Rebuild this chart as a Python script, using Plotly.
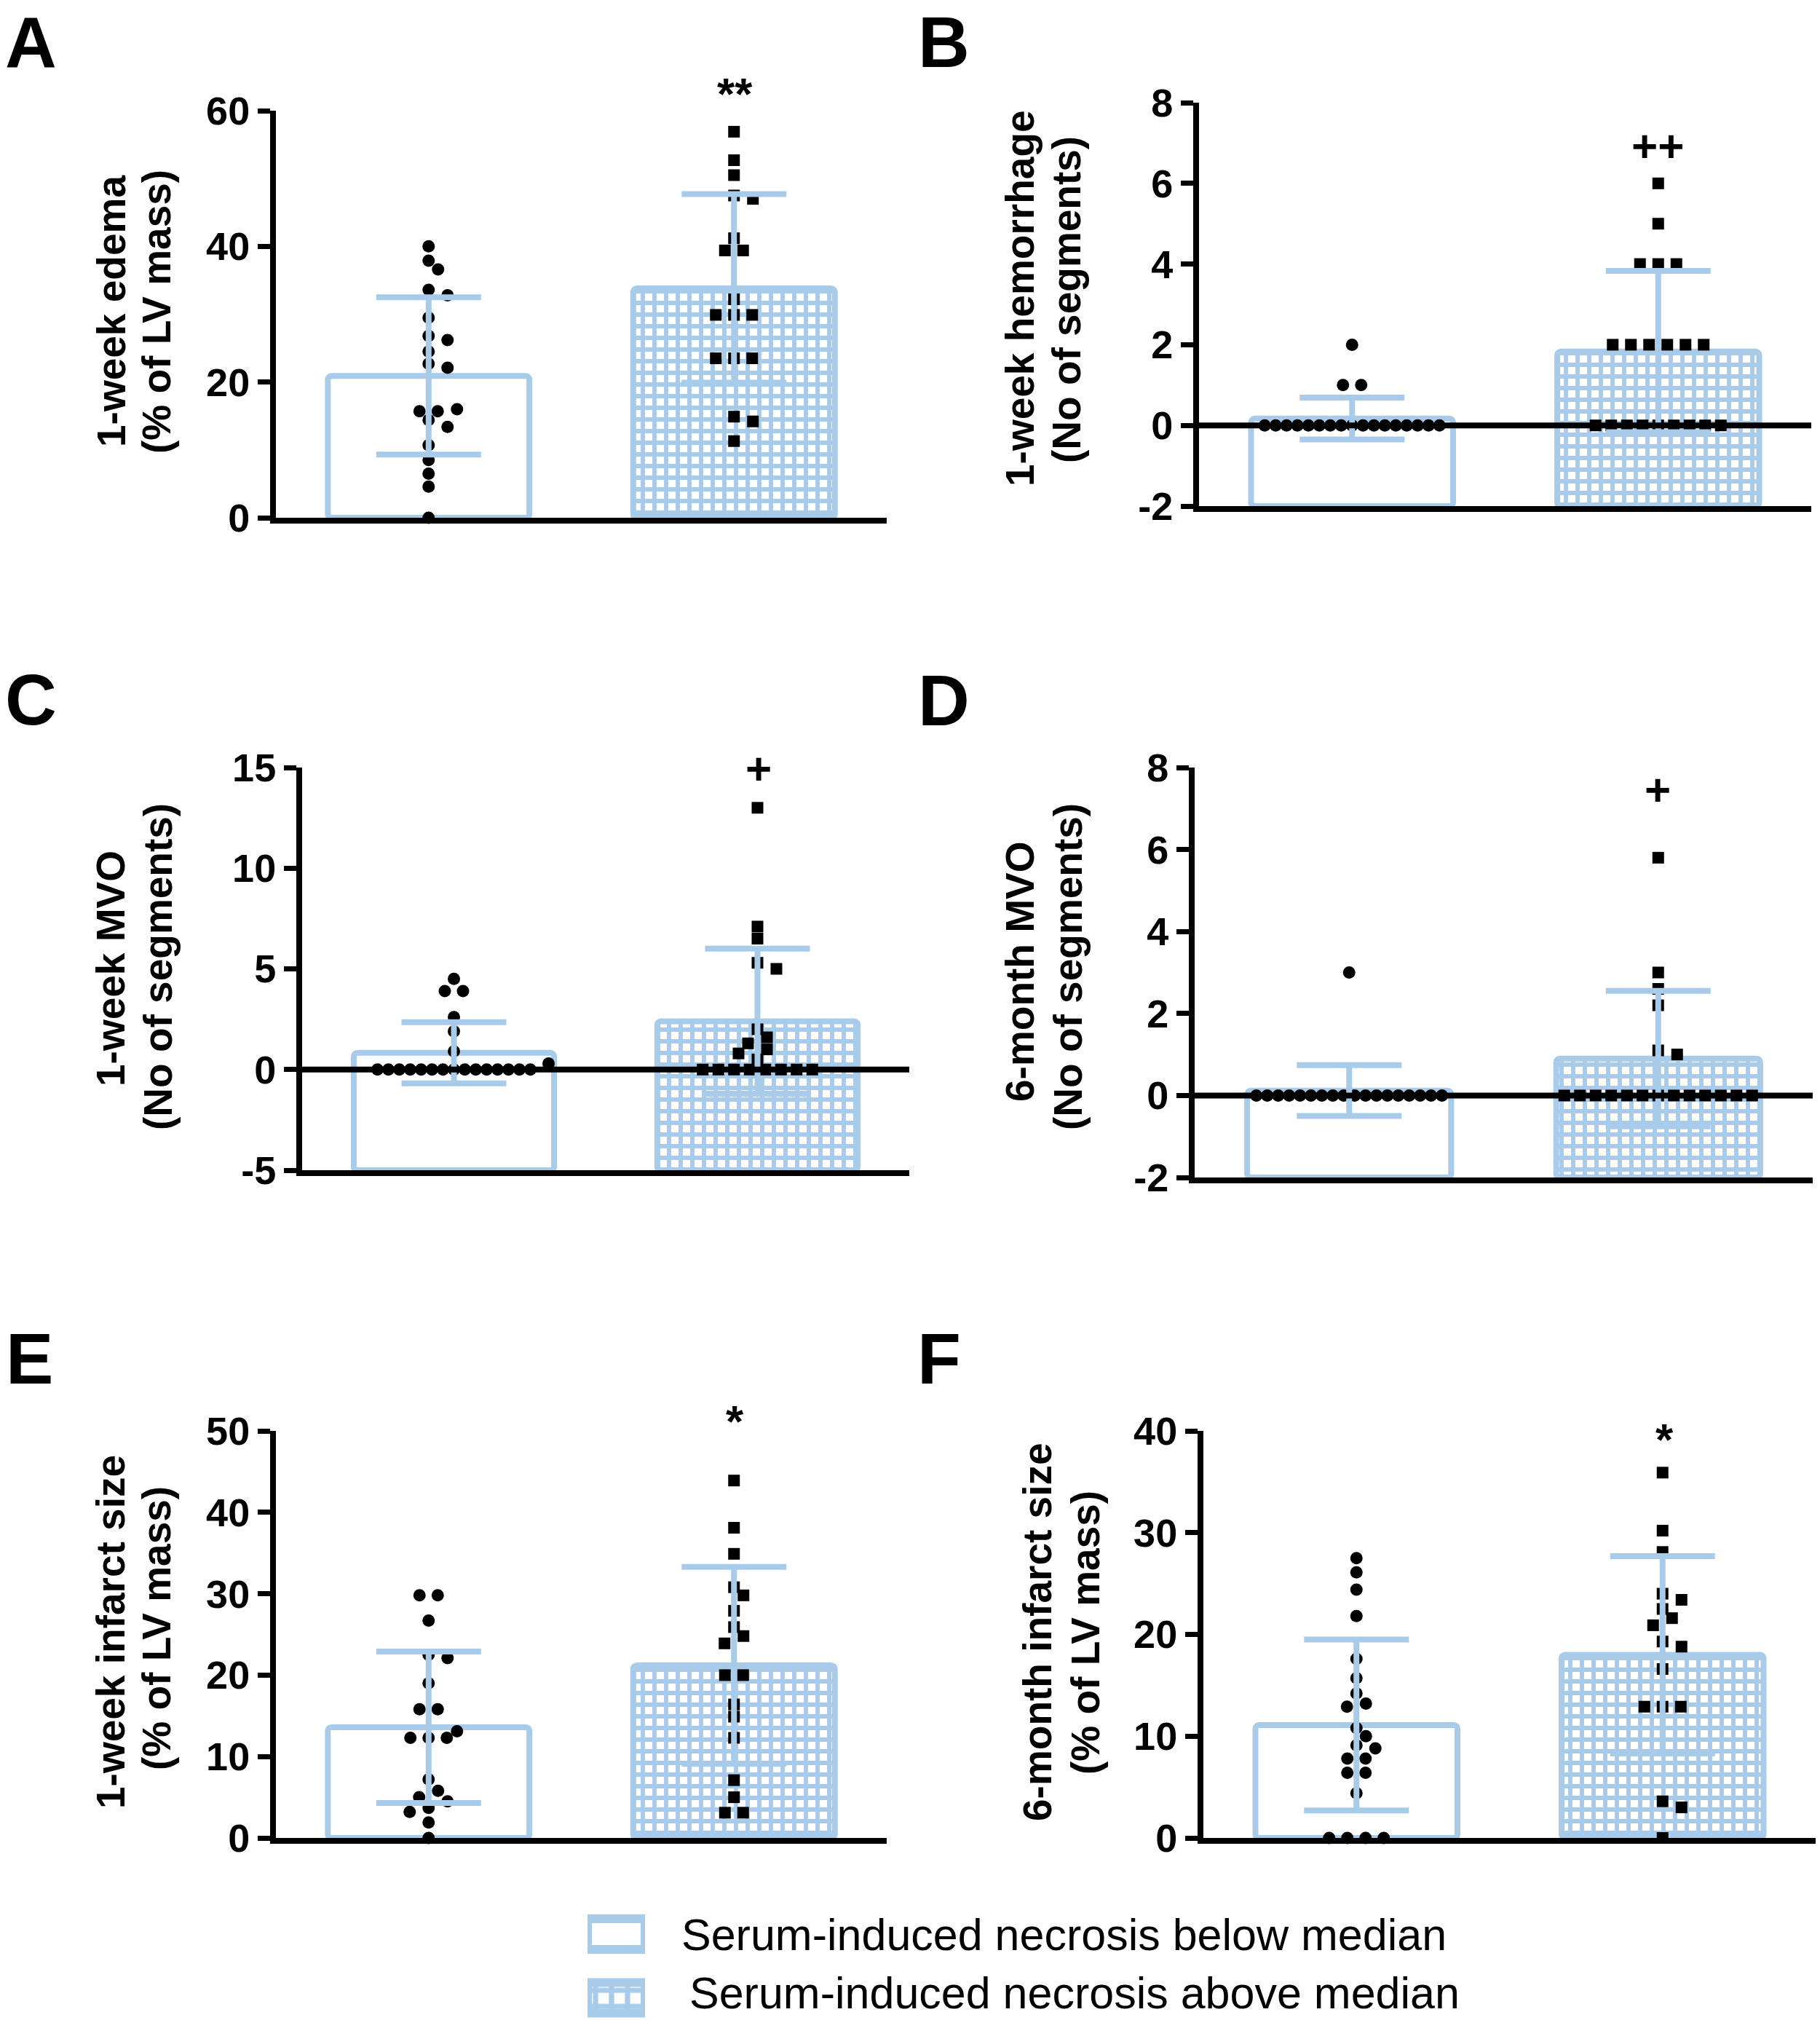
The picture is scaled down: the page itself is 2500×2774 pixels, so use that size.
import plotly.graph_objects as go
from collections import defaultdict

W, H = 2500, 2774
BLUE = '#A9CBEA'
FONT = 'Liberation Sans, Arial, Helvetica, sans-serif'

GROUPS = ['Serum-induced necrosis below median', 'Serum-induced necrosis above median']

# ---------------- data ----------------
A_below = [40.0, 37.9, 36.6, 33.6, 32.8, 29.5, 26.8, 26.2, 24.5, 22.7, 22.1, 16.0, 15.7, 15.7,
           14.4, 13.4, 10.7, 8.5, 6.5, 4.6, 0.0]
A_above = [56.9, 52.7, 50.5, 47.5, 47.0, 41.2, 39.4, 39.4, 32.2, 29.9, 29.9, 29.9, 23.5, 23.5,
           23.5, 14.9, 14.2, 11.3]
A_mean = [20.9, 33.8]
A_sd = [11.6, 13.9]

B_below = [2, 1, 1, 0, 0, 0, 0, 0, 0, 0, 0, 0, 0, 0, 0, 0, 0, 0, 0, 0]
B_above = [6, 5, 4, 4, 4, 2, 2, 2, 2, 2, 2, 0, 0, 0, 0, 0, 0, 0, 0, 0]
B_mean = [0.17, 1.83]
B_sd = [0.52, 2.0]

C_below = [4.5, 3.9, 3.9, 2.6, 1.9, 0.9, 0.3, 0, 0, 0, 0, 0, 0, 0, 0, 0, 0, 0, 0, 0, 0, 0]
C_above = [13.0, 7.1, 6.5, 5.3, 5.0, 2.0, 1.6, 1.3, 1.0, 0.8, 0.5, 0, 0, 0, 0, 0, 0, 0, 0]
C_mean = [0.83, 2.4]
C_sd = [1.52, 3.6]

D_below = [3.0, 0, 0, 0, 0, 0, 0, 0, 0, 0, 0, 0, 0, 0, 0, 0, 0, 0, 0]
D_above = [5.8, 3.0, 2.6, 2.2, 1.1, 1.0, 0, 0, 0, 0, 0, 0, 0, 0, 0, 0, 0, 0, 0]
D_mean = [0.12, 0.9]
D_sd = [0.62, 1.65]

E_below = [29.8, 29.8, 26.7, 22.5, 22.1, 19.0, 15.8, 15.8, 13.1, 12.3, 12.3, 12.3, 7.2, 5.8,
           5.0, 4.5, 3.7, 3.2, 1.9, 0.0]
E_above = [43.9, 38.1, 34.9, 30.8, 29.8, 27.9, 25.9, 24.8, 23.9, 20.0, 20.0, 16.4, 14.9, 12.3,
           7.1, 5.0, 3.1, 3.1]
E_mean = [13.6, 21.2]
E_sd = [9.3, 12.1]

F_below = [27.5, 26.1, 24.4, 21.8, 17.6, 15.7, 14.2, 13.2, 12.9, 10.8, 10.0, 9.1, 8.8, 7.8,
           7.8, 6.4, 6.4, 4.4, 0.0, 0.0, 0.0, 0.0]
F_above = [35.9, 30.2, 28.1, 24.0, 23.4, 22.5, 21.6, 20.9, 19.3, 18.8, 16.6, 12.9, 12.9, 12.9,
           3.6, 3.0, 0.0]
F_mean = [11.1, 18.0]
F_sd = [8.4, 9.7]

A_ticks = [0, 20, 40, 60]
B_ticks = [-2, 0, 2, 4, 6, 8]
C_ticks = [-5, 0, 5, 10, 15]
D_ticks = [-2, 0, 2, 4, 6, 8]
E_ticks = [0, 10, 20, 30, 40, 50]
F_ticks = [0, 10, 20, 30, 40]

A_title = ['1-week edema', '(% of LV mass)']
B_title = ['1-week hemorrhage', '(No of segments)']
C_title = ['1-week MVO', '(No of segments)']
D_title = ['6-month MVO', '(No of segments)']
E_title = ['1-week infarct size', '(% of LV mass)']
F_title = ['6-month infarct size', '(% of LV mass)']

SIG = ['**', '++', '+', '+', '*', '*']
LETTERS = ['A', 'B', 'C', 'D', 'E', 'F']

# ---------------- layout (pixels) ----------------
# axis line centres: left, right, top, bottom
BOX = [(375, 1218, 152, 714), (1643, 2488, 141, 698),
       (411, 1249, 1054, 1610), (1637, 2490, 1054, 1620),
       (375, 1218, 1965, 2527), (1649, 2494, 1965, 2527)]
# (x centre, y, anchor)
LETTER_POS = [(42, 1, 'top'), (1296, 1, 'top'), (42, 961, 'middle'), (1296, 962, 'middle'),
              (40, 1866, 'middle'), (1290, 1866, 'middle')]
TITLE_POS = [((153, 428), (215, 428)), ((1401, 410), (1465, 412)),
             ((152, 1330), (217, 1328)), ((1401, 1335), (1467, 1328)),
             ((152, 2241), (215, 2236)), ((1425, 2241), (1491, 2242))]
SIG_POS = [(1009, 128), (2277, 200), (1042, 1055), (2277, 1085), (1009, 1951), (2286, 1976)]

panels = [
    (A_below, A_above, A_mean, A_sd, A_ticks, A_title),
    (B_below, B_above, B_mean, B_sd, B_ticks, B_title),
    (C_below, C_above, C_mean, C_sd, C_ticks, C_title),
    (D_below, D_above, D_mean, D_sd, D_ticks, D_title),
    (E_below, E_above, E_mean, E_sd, E_ticks, E_title),
    (F_below, F_above, F_mean, F_sd, F_ticks, F_title),
]

BAR_W = 0.66
DOT = 17
SQ = 16
PATTERN = dict(shape='+', fgcolor=BLUE, bgcolor='white', size=16, solidity=0.6,
               fillmode='replace')


def px(xp):
    return xp / W


def py(yp):
    return 1 - yp / H


def swarm(values, ppx, ppy, diam, gap_many, gap_few=25.0, step=13.0):
    """Deterministic beeswarm: returns x offsets (axis units)."""
    n = len(values)
    off = [None] * n
    placed = []
    groups = defaultdict(list)
    for i, v in enumerate(values):
        groups[v].append(i)
    for v, idx in groups.items():
        if len(idx) >= 2:
            gap = gap_many if len(idx) >= 8 else gap_few
            for k, i in enumerate(idx):
                xo = (k - (len(idx) - 1) / 2) * gap
                off[i] = xo
                placed.append((xo, v * ppy))
    order = sorted([i for i in range(n) if off[i] is None], key=lambda i: -values[i])
    cands = [0.0]
    for j in range(1, 40):
        cands += [j * step, -j * step]
    for i in order:
        yv = values[i] * ppy
        chosen = cands[-1]
        for xo in cands:
            if all((xo - a) ** 2 + (yv - b) ** 2 >= diam ** 2 for a, b in placed):
                chosen = xo
                break
        off[i] = chosen
        placed.append((chosen, yv))
    return [o / ppx for o in off]


fig = go.Figure()
annotations = []
shapes = []
layout_axes = {}

for p, (below, above, mean, sd, ticks, title) in enumerate(panels):
    k = p + 1
    xa = 'x' if k == 1 else f'x{k}'
    ya = 'y' if k == 1 else f'y{k}'
    left, right, top, bottom = BOX[p]
    ymin, ymax = ticks[0], ticks[-1]
    dom_x = [px(left + 4), px(right)]
    dom_y = [py(bottom - 3), py(top)]
    ppx = (right - left - 4) / 2.0
    ppy = (bottom - 3 - top) / (ymax - ymin)

    # bars from the axis minimum up to the group mean
    fig.add_trace(go.Bar(
        x=[0], y=[mean[0] - ymin], base=[ymin], width=BAR_W, name=GROUPS[0],
        marker=dict(color='white', line=dict(color=BLUE, width=8), cornerradius=5),
        xaxis=xa, yaxis=ya, showlegend=False, hoverinfo='skip'))
    fig.add_trace(go.Bar(
        x=[1], y=[mean[1] - ymin], base=[ymin], width=BAR_W, name=GROUPS[1],
        marker=dict(color='white', line=dict(color=BLUE, width=8), cornerradius=5,
                    pattern=PATTERN),
        xaxis=xa, yaxis=ya, showlegend=False, hoverinfo='skip'))

    # scatter points
    ob = swarm(below, ppx, ppy, 16.5, 15.0)
    oa = swarm(above, ppx, ppy, 16.5, 21.5)
    fig.add_trace(go.Scatter(
        x=[0 + o for o in ob], y=below, mode='markers',
        marker=dict(symbol='circle', size=DOT, color='black', line=dict(width=0)),
        xaxis=xa, yaxis=ya, showlegend=False, cliponaxis=False, hoverinfo='y'))
    fig.add_trace(go.Scatter(
        x=[1 + o for o in oa], y=above, mode='markers',
        marker=dict(symbol='square', size=SQ, color='black', line=dict(width=0)),
        xaxis=xa, yaxis=ya, showlegend=False, cliponaxis=False, hoverinfo='y'))

    # mean +/- SD error bars on top
    fig.add_trace(go.Scatter(
        x=[0, 1], y=mean, mode='markers',
        marker=dict(size=2, color='rgba(0,0,0,0)'),
        error_y=dict(type='data', array=sd, visible=True, color=BLUE, thickness=8, width=72),
        xaxis=xa, yaxis=ya, showlegend=False, cliponaxis=False, hoverinfo='skip'))

    if ymin < 0:
        shapes.append(dict(type='line', xref=f'{xa} domain', yref=ya, x0=0, x1=1, y0=0, y1=0,
                           line=dict(color='black', width=8), layer='above'))

    xkey = 'xaxis' if k == 1 else f'xaxis{k}'
    ykey = 'yaxis' if k == 1 else f'yaxis{k}'
    layout_axes[xkey] = dict(domain=dom_x, anchor=ya, range=[-0.5, 1.5], showline=True,
                             linewidth=8, linecolor='black', showticklabels=False, ticks='',
                             showgrid=False, zeroline=False, fixedrange=True, automargin=False)
    layout_axes[ykey] = dict(domain=dom_y, anchor=xa, range=[ymin, ymax], showline=True,
                             linewidth=8, linecolor='black', ticks='outside', ticklen=17,
                             tickwidth=7, tickcolor='black', tickvals=ticks,
                             ticktext=[str(t) for t in ticks],
                             tickfont=dict(family=FONT, size=54, color='black', weight='bold'),
                             showgrid=False, zeroline=False, fixedrange=True, automargin=False)

    # texts
    lx, ly, lanchor = LETTER_POS[p]
    annotations.append(dict(text=LETTERS[p], x=px(lx), y=py(ly), xref='paper', yref='paper',
                            xanchor='center', yanchor=lanchor, showarrow=False,
                            font=dict(family=FONT, size=98, color='black', weight='bold')))
    for line, (tx, ty) in zip(title, TITLE_POS[p]):
        annotations.append(dict(text=line, x=px(tx), y=py(ty), xref='paper', yref='paper',
                                xanchor='center', yanchor='middle', showarrow=False,
                                textangle=-90,
                                font=dict(family=FONT, size=55, color='black', weight='bold')))
    sx, sy = SIG_POS[p]
    annotations.append(dict(text=SIG[p], x=px(sx), y=py(sy), xref='paper', yref='paper',
                            xanchor='center', yanchor='middle', showarrow=False,
                            font=dict(family=FONT, size=62, color='black', weight='bold')))

# ---------------- legend (keys drawn as bars in a hidden subplot) ----------------
fig.add_trace(go.Bar(
    y=[1], x=[1], base=[0], orientation='h', width=0.48, cliponaxis=False,
    marker=dict(color='white', line=dict(color=BLUE, width=12)),
    xaxis='x7', yaxis='y7', showlegend=False, hoverinfo='skip'))
fig.add_trace(go.Bar(
    y=[0], x=[1], base=[0], orientation='h', width=0.48, cliponaxis=False,
    marker=dict(color='white', line=dict(color=BLUE, width=12),
                pattern=dict(shape='+', fgcolor=BLUE, bgcolor='white', size=22,
                             solidity=0.55, fillmode='replace')),
    xaxis='x7', yaxis='y7', showlegend=False, hoverinfo='skip'))
layout_axes['xaxis7'] = dict(domain=[px(807), px(886)], anchor='y7', range=[0, 1], visible=False,
                             fixedrange=True, automargin=False)
layout_axes['yaxis7'] = dict(domain=[0, (H - 2612.25) / H], anchor='x7', range=[-0.35, 1.5],
                             visible=False, fixedrange=True, automargin=False)
annotations.append(dict(text=GROUPS[0], x=px(934), y=py(2657), xref='paper', yref='paper',
                        xanchor='left', yanchor='middle', showarrow=False,
                        font=dict(family=FONT, size=61, color='black')))
annotations.append(dict(text=GROUPS[1], x=px(945), y=py(2737), xref='paper', yref='paper',
                        xanchor='left', yanchor='middle', showarrow=False,
                        font=dict(family=FONT, size=61, color='black')))

fig.update_layout(
    width=W, height=H, margin=dict(l=0, r=0, t=0, b=0, pad=0, autoexpand=False),
    paper_bgcolor='white', plot_bgcolor='rgba(0,0,0,0)',
    barmode='overlay', showlegend=False,
    annotations=annotations, shapes=shapes,
    font=dict(family=FONT, color='black'),
    **layout_axes)

fig.write_html('out.html', config={'displayModeBar': False})
